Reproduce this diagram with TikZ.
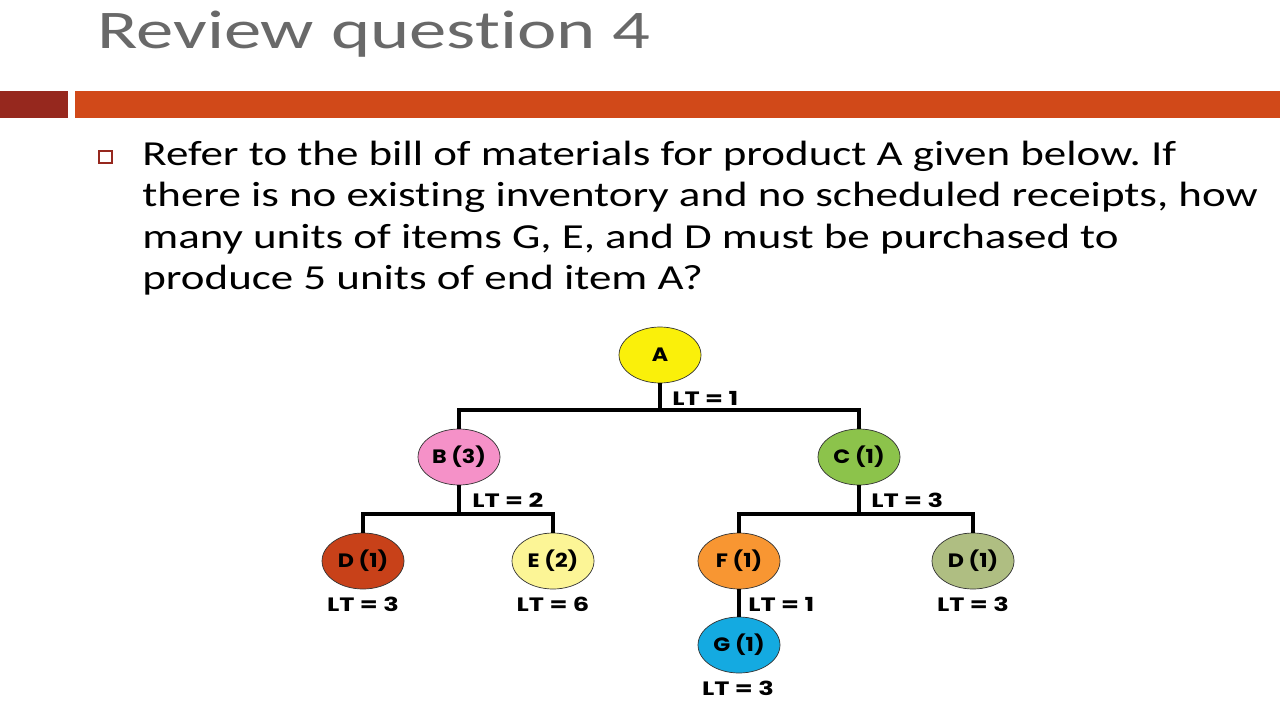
\documentclass[tikz,border=0pt]{standalone}
\usepackage{fontspec}
\setmainfont{Carlito}
\newfontfamily\titlefont[FakeStretch=1.37,Ligatures=NoCommon]{Carlito}
\newfontfamily\bodyfont[FakeStretch=1.28,Ligatures=NoCommon]{Carlito}
\newfontfamily\bomfont[FakeStretch=1.15]{Poppins}
\newfontfamily\ltfont[FakeStretch=1.33]{Poppins}
\usetikzlibrary{shapes.geometric}
\frenchspacing
\definecolor{titlegray}{RGB}{105,105,105}
\definecolor{bardark}{RGB}{150,40,30}
\definecolor{barorange}{RGB}{209,73,25}
\definecolor{colA}{RGB}{250,240,10}
\definecolor{colB}{RGB}{245,145,200}
\definecolor{colC}{RGB}{140,195,75}
\definecolor{colD}{RGB}{200,65,25}
\definecolor{colE}{RGB}{252,245,150}
\definecolor{colF}{RGB}{248,150,50}
\definecolor{colDD}{RGB}{175,190,130}
\definecolor{colG}{RGB}{20,170,225}
\tikzset{
	item/.style={ellipse,draw=black!80,thin,fill=#1,minimum width=1.64cm,minimum height=1.12cm,inner sep=0pt,font=\bomfont\bfseries\fontsize{11}{13}\selectfont}
}
\tikzset{
	lt/.style={inner sep=0pt,font=\ltfont\bfseries\fontsize{11}{13}\selectfont},
	link/.style={line width=2.4pt},
	line/.style={anchor=base west,inner sep=0pt,font=\bodyfont\fontsize{20}{24}\selectfont}
}

\begin{document}
\begin{tikzpicture}[x=0.02cm,y=-0.02cm]
	\useasboundingbox[fill=white] (0,0) rectangle (1280,720);
	\node[anchor=base west,inner sep=0pt,text=titlegray,font=\titlefont\fontsize{31}{36}\selectfont] (title) at (97,48) {Review question 4};
	\fill[bardark] (0,91) rectangle (68,118);
	\fill[barorange] (75,91) rectangle (1280,118);
	\draw[bardark,line width=0.8pt] (99,151) rectangle (112,163);
	\node[line] (q1) at (142,165) {Refer to the bill of materials for product A given below. If};
	\node[line] (q2) at (142,206) {there is no existing inventory and no scheduled receipts, how};
	\node[line] (q3) at (142,248) {many units of items G, E, and D must be purchased to};
	\node[line] (q4) at (142,289) {produce 5 units of end item A?};
	% tree
	\node[item=colA] (A) at (660,355) {A};
	\node[item=colB] (B) at (459,457) {B (3)};
	\node[item=colC] (C) at (859,457) {C (1)};
	\node[item=colD] (D) at (363,561) {D (1)};
	\node[item=colE] (E) at (553,561) {E (2)};
	\node[item=colF] (F) at (739,561) {F (1)};
	\node[item=colDD] (DD) at (973,561) {D (1)};
	\node[item=colG] (G) at (739,645) {G (1)};
	\coordinate (ab) at (660,410);
	\coordinate (bb) at (459,514);
	\coordinate (cb) at (859,514);
	\draw[link] (A.south) -- (ab);
	\draw[link] (B.north) |- (ab) -| (C.north);
	\draw[link] (B.south) -- (bb);
	\draw[link] (D.north) |- (bb) -| (E.north);
	\draw[link] (C.south) -- (cb);
	\draw[link] (F.north) |- (cb) -| (DD.north);
	\draw[link] (F.south) -- (G.north);
	\node[lt,anchor=west] (ltA) at (672,398) {LT = 1};
	\node[lt,anchor=west] (ltB) at (472,500) {LT = 2};
	\node[lt,anchor=west] (ltC) at (871,500) {LT = 3};
	\node[lt,anchor=west] (ltF) at (748,604) {LT = 1};
	\node[lt] (ltD) at (363,604) {LT = 3};
	\node[lt] (ltE) at (553,604) {LT = 6};
	\node[lt] (ltDD) at (973,604) {LT = 3};
	\node[lt] (ltG) at (738,688) {LT = 3};
\end{tikzpicture}
\end{document}
